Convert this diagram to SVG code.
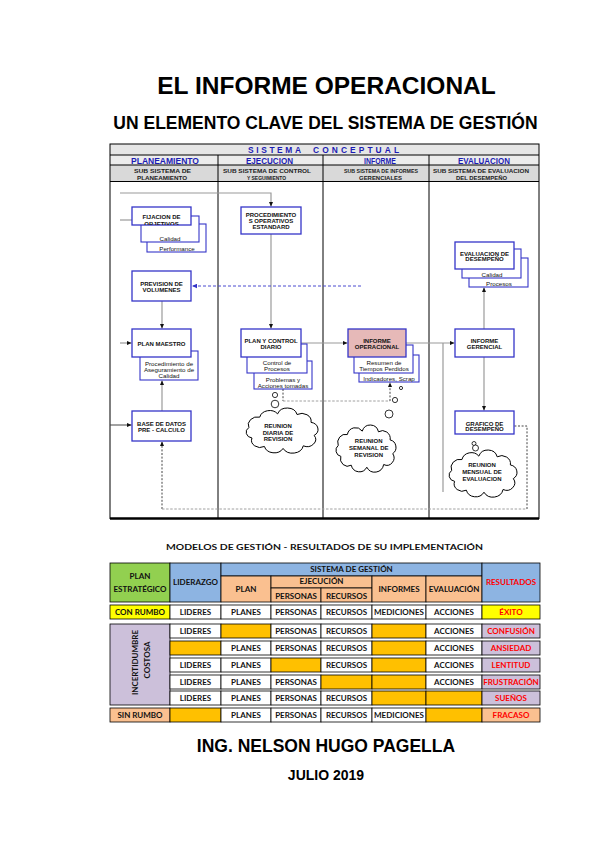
<svg xmlns="http://www.w3.org/2000/svg" width="595" height="842" viewBox="0 0 595 842">
<style>
.bx{fill:#fff;stroke:#3535c8;stroke-width:1.3}
.bk{fill:#fff;stroke:#3535c8;stroke-width:1.1}
.pk{fill:#e6b9b8;stroke:#3535c8;stroke-width:1.3}
.t{font-family:"Liberation Sans",Arial,sans-serif;font-weight:bold;font-size:6px;fill:#111;text-anchor:middle}
.r{font-family:"Liberation Sans",Arial,sans-serif;font-size:6.2px;fill:#111;text-anchor:middle}
.hd{font-family:"Liberation Sans",Arial,sans-serif;font-weight:bold;font-size:8.4px;fill:#1c1cb4}
.sh{font-family:"Liberation Sans",Arial,sans-serif;font-weight:bold;font-size:5.3px;fill:#222}
.ln{fill:none;stroke:#9a9a9a;stroke-width:1.2}
.dk{fill:none;stroke:#444;stroke-width:1;stroke-dasharray:2 1.6}
.dg{fill:none;stroke:#a0a0a0;stroke-width:1;stroke-dasharray:2.5 1.6}
.db{fill:none;stroke:#4a4ad0;stroke-width:1;stroke-dasharray:3 2}
.cl{fill:#fff;stroke:#000;stroke-width:1;vector-effect:non-scaling-stroke}
.c{fill:#fff;stroke:#000;stroke-width:0.8}
.ttl{font-family:"Liberation Sans",Arial,sans-serif;font-weight:bold;fill:#000;text-anchor:middle}
.tt{font-family:Lato,"Liberation Sans",sans-serif;font-weight:bold;font-size:8px;fill:#111;text-anchor:middle}
.rd{fill:#ff0000}
.w{fill:#fff;stroke:#000;stroke-width:0.8}
.y{fill:#ffff00;stroke:#000;stroke-width:0.8}
.o{fill:#ffc000;stroke:#000;stroke-width:0.8}
.p{fill:#ccc0da;stroke:#000;stroke-width:0.8}
.pe{fill:#fac090;stroke:#000;stroke-width:0.8}
.g{fill:#92d050;stroke:#000;stroke-width:0.8}
.b{fill:#8db4e2;stroke:#000;stroke-width:0.8}
</style>
<defs>
<marker id="ah" viewBox="0 0 10 10" refX="10" refY="5" markerWidth="4.5" markerHeight="4.5" orient="auto" markerUnits="userSpaceOnUse"><path d="M0,0.5 L10,5 L0,9.5 z" fill="#111"/></marker>
<marker id="ahb" viewBox="0 0 10 10" refX="10" refY="5" markerWidth="5" markerHeight="5" orient="auto" markerUnits="userSpaceOnUse"><path d="M0,0.5 L10,5 L0,9.5 z" fill="#3434c8"/></marker>
<path id="cloud" class="cl" d="M9,46 A9,9 0 0 1 5,30 A12,12 0 0 1 19,14 A13,13 0 0 1 42,9 A13,13 0 0 1 67,10 A12,12 0 0 1 85,22 A11,11 0 0 1 89,42 A11,11 0 0 1 75,58 A14,14 0 0 1 49,62 A13,13 0 0 1 25,59 A11,11 0 0 1 9,46 Z"/>
<clipPath id="cf"><rect x="132" y="207" width="59" height="18"/></clipPath>
</defs>
<rect width="595" height="842" fill="#fff"/>

<!-- Titles -->
<text class="ttl" x="326.5" y="94" font-size="24.5">EL INFORME OPERACIONAL</text>
<text class="ttl" x="325.5" y="129" font-size="17.5">UN ELEMENTO CLAVE DEL SISTEMA DE GESTIÓN</text>

<!-- Frame / header -->
<g id="frame">
<rect x="110" y="144" width="429" height="11" fill="#e6e6e6"/>
<rect x="110" y="155" width="429" height="10" fill="#ececec"/>
<rect x="110" y="165" width="429" height="16.5" fill="#d9d9d9"/>
<rect x="110" y="144" width="429" height="374.5" fill="none" stroke="#000" stroke-width="1"/>
<path d="M110,155 H539 M110,165 H539 M110,181.5 H539 M218,155 V518 M323,155 V518 M429,155 V518" stroke="#000" stroke-width="1" fill="none"/>
<path d="M110,518.5 H539" stroke="#000" stroke-width="2.5"/>
<text class="hd" x="248" y="152.7" textLength="53" lengthAdjust="spacing">SISTEMA</text>
<text class="hd" x="313" y="152.7" textLength="86" lengthAdjust="spacing">CONCEPTUAL</text>
<text class="hd" x="131" y="164.3" textLength="68" lengthAdjust="spacingAndGlyphs">PLANEAMIENTO</text>
<text class="hd" x="246" y="164.3" textLength="47" lengthAdjust="spacingAndGlyphs">EJECUCION</text>
<text class="hd" x="364" y="164.3" textLength="32" lengthAdjust="spacingAndGlyphs">INFORME</text>
<text class="hd" x="458" y="164.3" textLength="52" lengthAdjust="spacingAndGlyphs">EVALUACION</text>
<text class="sh" x="134" y="172.5" textLength="57" lengthAdjust="spacingAndGlyphs">SUB SISTEMA DE</text>
<text class="sh" x="137" y="180" textLength="50" lengthAdjust="spacingAndGlyphs">PLANEAMIENTO</text>
<text class="sh" x="223" y="172.5" textLength="88" lengthAdjust="spacingAndGlyphs">SUB SISTEMA DE CONTROL</text>
<text class="sh" x="247" y="180" textLength="39" lengthAdjust="spacingAndGlyphs">Y SEGUIMIENTO</text>
<text class="sh" x="344" y="172.5" textLength="74" lengthAdjust="spacingAndGlyphs">SUB SISTEMA DE INFORMES</text>
<text class="sh" x="359" y="180" textLength="43" lengthAdjust="spacingAndGlyphs">GERENCIALES</text>
<text class="sh" x="433" y="172.5" textLength="96" lengthAdjust="spacingAndGlyphs">SUB SISTEMA DE EVALUACION</text>
<text class="sh" x="456" y="180" textLength="51" lengthAdjust="spacingAndGlyphs">DEL DESEMPEÑO</text>
</g>

<!-- Connectors -->
<g id="connectors">
<path class="ln" d="M120,193 H271 V206.5" marker-end="url(#ah)"/>
<path class="ln" d="M120,220 H132"/>
<path class="ln" d="M271,234 V328.5" marker-end="url(#ah)"/>
<path class="ln" d="M162,301 V328.5" marker-end="url(#ah)"/>
<path class="ln" d="M120,343 H131.5" marker-end="url(#ah)"/>
<path class="ln" d="M162,411 V380.5" marker-end="url(#ah)"/>
<path d="M110,425 H131.5" fill="none" stroke="#444" stroke-width="1" marker-end="url(#ah)"/>
<path class="ln" d="M301,343 H347.5" marker-end="url(#ah)"/>
<path class="ln" d="M406,343 H454.5" marker-end="url(#ah)"/>
<path class="ln" d="M443,343 V492"/>
<path class="ln" d="M484,329 V287.5" marker-end="url(#ah)"/>
<path class="ln" d="M484,357 V410.5" marker-end="url(#ah)"/>
<path class="db" d="M361,286 H192" marker-end="url(#ahb)"/>
<path class="dk" d="M283,389 V401"/>
<path class="dg" d="M283,401 H390"/>
<path class="dk" d="M390,401 V382.5" marker-end="url(#ah)"/>
<path class="dk" d="M162,509 V441.5" marker-end="url(#ah)"/>
<path class="dg" d="M162,509 H527"/>
<path class="dk" d="M527,509 V426 H514"/>
</g>

<!-- PLANEAMIENTO nodes -->
<g id="n-fijacion">
<rect class="bk" x="147" y="224" width="59" height="28"/>
<text class="r" x="177" y="250.5">Performance</text>
<rect class="bk" x="141" y="216" width="58" height="26"/>
<text class="r" x="170" y="240.5">Calidad</text>
<rect class="bx" x="132" y="207" width="59" height="18"/>
<g clip-path="url(#cf)"><text class="t" x="161.5" y="219">FIJACION DE</text><text class="t" x="161.5" y="225.5">OBJETIVOS</text></g>
</g>
<g id="n-prevision">
<rect class="bx" x="132" y="271" width="59" height="30"/>
<text class="t" x="161.5" y="285.5">PREVISION DE</text>
<text class="t" x="161.5" y="291.5">VOLUMENES</text>
</g>
<g id="n-planmaestro">
<rect class="bk" x="140" y="351" width="58" height="29"/>
<text class="r" x="169" y="365.5">Procedimiento de</text>
<text class="r" x="169" y="372">Aseguramiento de</text>
<text class="r" x="169" y="378.3">Calidad</text>
<rect class="bx" x="132" y="329" width="59" height="28"/>
<text class="t" x="161.5" y="345.8">PLAN MAESTRO</text>
</g>
<g id="n-basedatos">
<rect class="bx" x="132" y="411" width="59" height="30"/>
<text class="t" x="161.5" y="425.5">BASE DE DATOS</text>
<text class="t" x="161.5" y="431.5">PRE - CALCULO</text>
</g>

<!-- EJECUCION nodes -->
<g id="n-procedimientos">
<rect class="bx" x="241" y="207" width="60" height="27"/>
<text class="t" x="271" y="217.2">PROCEDIMIENTO</text>
<text class="t" x="271" y="223.2">S OPERATIVOS</text>
<text class="t" x="271" y="229.4">ESTANDARD</text>
</g>
<g id="n-plancontrol">
<rect class="bk" x="254" y="361" width="58" height="28"/>
<text class="r" x="283" y="382.2">Problemas y</text>
<text class="r" x="283" y="387.9">Acciones tomadas</text>
<rect class="bk" x="247" y="344" width="60" height="29"/>
<text class="r" x="277" y="364.9">Control de</text>
<text class="r" x="277" y="370.9">Procesos</text>
<rect class="bx" x="241" y="329" width="60" height="28"/>
<text class="t" x="271" y="343.2">PLAN Y CONTROL</text>
<text class="t" x="271" y="349.2">DIARIO</text>
</g>
<g id="n-reuniondiaria">
<circle class="c" cx="275" cy="395" r="2.6"/>
<circle class="c" cx="275" cy="404" r="3.8"/>
<use href="#cloud" transform="translate(245,408) scale(0.777,0.652)"/>
<text class="t" x="278" y="427.9">REUNION</text>
<text class="t" x="278" y="434.5">DIARIA DE</text>
<text class="t" x="278" y="441.2">REVISION</text>
</g>

<!-- INFORME nodes -->
<g id="n-informeop">
<rect class="bk" x="359" y="355" width="60" height="27"/>
<text class="r" x="389" y="380.5" font-size="5.6" fill="#1a1a60">Indicadores, Scrap</text>
<rect class="bk" x="354" y="345" width="59" height="28"/>
<text class="r" x="384" y="364.9">Resumen de</text>
<text class="r" x="384" y="371.2">Tiempos Perdidos</text>
<rect class="pk" x="348" y="329" width="58" height="28"/>
<text class="t" x="377" y="343.2">INFORME</text>
<text class="t" x="377" y="349.2">OPERACIONAL</text>
</g>
<g id="n-reunionsemanal">
<circle class="c" cx="401" cy="388" r="1.6"/>
<circle class="c" cx="395" cy="400" r="2.6"/>
<circle class="c" cx="389" cy="414" r="4"/>
<use href="#cloud" transform="translate(335,425) scale(0.649,0.681)"/>
<text class="t" x="368.7" y="443.2">REUNION</text>
<text class="t" x="368.7" y="450.2">SEMANAL DE</text>
<text class="t" x="368.7" y="456.5">REVISION</text>
</g>

<!-- EVALUACION nodes -->
<g id="n-evaluacion">
<rect class="bk" x="469" y="258" width="59" height="29"/>
<text class="r" x="499" y="285.5" fill="#3a1010">Procesos</text>
<rect class="bk" x="462" y="249" width="59" height="29"/>
<text class="r" x="492" y="276.5">Calidad</text>
<rect class="bx" x="455" y="242" width="59" height="27"/>
<text class="t" x="484.5" y="255.5">EVALUACION DE</text>
<text class="t" x="484.5" y="260.9">DESEMPEÑO</text>
</g>
<g id="n-informegerencial">
<rect class="bx" x="455" y="329" width="59" height="28"/>
<text class="t" x="484.5" y="343.2">INFORME</text>
<text class="t" x="484.5" y="349.2">GERENCIAL</text>
</g>
<g id="n-grafico">
<rect class="bx" x="455" y="411" width="59" height="23"/>
<text class="t" x="484.5" y="425.5">GRAFICO DE</text>
<text class="t" x="484.5" y="431.2">DESEMPEÑO</text>
</g>
<g id="n-reunionmensual">
<circle class="c" cx="474" cy="443.5" r="2"/>
<circle class="c" cx="475.5" cy="448" r="3"/>
<use href="#cloud" transform="translate(448,450) scale(0.734,0.681)"/>
<text class="t" x="482" y="467.2">REUNION</text>
<text class="t" x="482" y="474.2">MENSUAL DE</text>
<text class="t" x="482" y="481.2">EVALUACION</text>
</g>

<!-- Table -->
<text class="tt" x="324.5" y="549.5" font-size="9.5" textLength="317" lengthAdjust="spacingAndGlyphs">MODELOS DE GESTIÓN - RESULTADOS DE SU IMPLEMENTACIÓN</text>
<g id="table-header">
<rect class="g" x="110" y="563" width="60" height="39"/>
<text class="tt" x="140" y="578.5" font-size="7.6">PLAN</text>
<text class="tt" x="140" y="592" font-size="7.6">ESTRATÉGICO</text>
<rect class="b" x="170" y="563" width="51" height="39"/>
<text class="tt" x="195.5" y="584.5" font-size="7.6">LIDERAZGO</text>
<rect class="b" x="221" y="563" width="261" height="13"/>
<text class="tt" x="351.5" y="571.7" font-size="7.6">SISTEMA DE GESTIÓN</text>
<rect class="pe" x="221" y="576" width="50" height="26"/>
<text class="tt" x="246" y="591.5" font-size="7.6">PLAN</text>
<rect class="pe" x="271" y="576" width="101" height="12"/>
<text class="tt" x="321.5" y="584" font-size="7.6">EJECUCIÓN</text>
<rect class="pe" x="271" y="588" width="50" height="14"/>
<text class="tt" x="296" y="598.5" font-size="7.6">PERSONAS</text>
<rect class="pe" x="321" y="588" width="51" height="14"/>
<text class="tt" x="346.5" y="598.5" font-size="7.6">RECURSOS</text>
<rect class="pe" x="372" y="576" width="54" height="26"/>
<text class="tt" x="399" y="591.5" font-size="7.6">INFORMES</text>
<rect class="pe" x="426" y="576" width="56" height="26"/>
<text class="tt" x="454" y="591.5" font-size="7.6">EVALUACIÓN</text>
<rect class="b" x="482" y="563" width="58" height="39"/>
<text class="tt rd" x="511" y="585" font-size="7.6">RESULTADOS</text>
</g>

<g id="row-conrumbo">
<rect class="y" x="110" y="605" width="60" height="14"/><text class="tt" x="140" y="615">CON RUMBO</text>
<rect class="w" x="170" y="605" width="51" height="14"/><text class="tt" x="195.5" y="615">LIDERES</text>
<rect class="w" x="221" y="605" width="50" height="14"/><text class="tt" x="246" y="615">PLANES</text>
<rect class="w" x="271" y="605" width="50" height="14"/><text class="tt" x="296" y="615">PERSONAS</text>
<rect class="w" x="321" y="605" width="51" height="14"/><text class="tt" x="346.5" y="615">RECURSOS</text>
<rect class="w" x="372" y="605" width="54" height="14"/><text class="tt" x="399" y="615">MEDICIONES</text>
<rect class="w" x="426" y="605" width="56" height="14"/><text class="tt" x="454" y="615">ACCIONES</text>
<rect class="y" x="482" y="605" width="58" height="14"/><text class="tt rd" x="511" y="615">ÉXITO</text>
</g>

<g id="rows-incertidumbre">
<rect class="p" x="110" y="624" width="60" height="81"/>
<text class="tt" transform="translate(138,662.5) rotate(-90)">INCERTIDUMBRE</text>
<text class="tt" transform="translate(150,660) rotate(-90)">COSTOSA</text>

<rect class="w" x="170" y="624" width="51" height="14"/><text class="tt" x="195.5" y="634">LIDERES</text>
<rect class="o" x="221" y="624" width="50" height="14"/>
<rect class="w" x="271" y="624" width="50" height="14"/><text class="tt" x="296" y="634">PERSONAS</text>
<rect class="w" x="321" y="624" width="51" height="14"/><text class="tt" x="346.5" y="634">RECURSOS</text>
<rect class="o" x="372" y="624" width="54" height="14"/>
<rect class="w" x="426" y="624" width="56" height="14"/><text class="tt" x="454" y="634">ACCIONES</text>
<rect class="p" x="482" y="624" width="58" height="14"/><text class="tt rd" x="511" y="634">CONFUSIÓN</text>

<rect class="o" x="170" y="641" width="51" height="14"/>
<rect class="w" x="221" y="641" width="50" height="14"/><text class="tt" x="246" y="651">PLANES</text>
<rect class="w" x="271" y="641" width="50" height="14"/><text class="tt" x="296" y="651">PERSONAS</text>
<rect class="w" x="321" y="641" width="51" height="14"/><text class="tt" x="346.5" y="651">RECURSOS</text>
<rect class="o" x="372" y="641" width="54" height="14"/>
<rect class="w" x="426" y="641" width="56" height="14"/><text class="tt" x="454" y="651">ACCIONES</text>
<rect class="p" x="482" y="641" width="58" height="14"/><text class="tt rd" x="511" y="651">ANSIEDAD</text>

<rect class="w" x="170" y="658" width="51" height="14"/><text class="tt" x="195.5" y="668">LIDERES</text>
<rect class="w" x="221" y="658" width="50" height="14"/><text class="tt" x="246" y="668">PLANES</text>
<rect class="o" x="271" y="658" width="50" height="14"/>
<rect class="w" x="321" y="658" width="51" height="14"/><text class="tt" x="346.5" y="668">RECURSOS</text>
<rect class="o" x="372" y="658" width="54" height="14"/>
<rect class="w" x="426" y="658" width="56" height="14"/><text class="tt" x="454" y="668">ACCIONES</text>
<rect class="p" x="482" y="658" width="58" height="14"/><text class="tt rd" x="511" y="668">LENTITUD</text>

<rect class="w" x="170" y="675" width="51" height="14"/><text class="tt" x="195.5" y="685">LIDERES</text>
<rect class="w" x="221" y="675" width="50" height="14"/><text class="tt" x="246" y="685">PLANES</text>
<rect class="w" x="271" y="675" width="50" height="14"/><text class="tt" x="296" y="685">PERSONAS</text>
<rect class="o" x="321" y="675" width="51" height="14"/>
<rect class="o" x="372" y="675" width="54" height="14"/>
<rect class="w" x="426" y="675" width="56" height="14"/><text class="tt" x="454" y="685">ACCIONES</text>
<rect class="p" x="482" y="675" width="58" height="14"/><text class="tt rd" x="511" y="685">FRUSTRACIÓN</text>

<rect class="w" x="170" y="691" width="51" height="14"/><text class="tt" x="195.5" y="701">LIDERES</text>
<rect class="w" x="221" y="691" width="50" height="14"/><text class="tt" x="246" y="701">PLANES</text>
<rect class="w" x="271" y="691" width="50" height="14"/><text class="tt" x="296" y="701">PERSONAS</text>
<rect class="w" x="321" y="691" width="51" height="14"/><text class="tt" x="346.5" y="701">RECURSOS</text>
<rect class="o" x="372" y="691" width="54" height="14"/>
<rect class="o" x="426" y="691" width="56" height="14"/>
<rect class="p" x="482" y="691" width="58" height="14"/><text class="tt rd" x="511" y="701">SUEÑOS</text>
</g>

<g id="row-sinrumbo">
<rect class="pe" x="110" y="708" width="60" height="14"/><text class="tt" x="140" y="718">SIN RUMBO</text>
<rect class="o" x="170" y="708" width="51" height="14"/>
<rect class="w" x="221" y="708" width="50" height="14"/><text class="tt" x="246" y="718">PLANES</text>
<rect class="w" x="271" y="708" width="50" height="14"/><text class="tt" x="296" y="718">PERSONAS</text>
<rect class="w" x="321" y="708" width="51" height="14"/><text class="tt" x="346.5" y="718">RECURSOS</text>
<rect class="w" x="372" y="708" width="54" height="14"/><text class="tt" x="399" y="718">MEDICIONES</text>
<rect class="o" x="426" y="708" width="56" height="14"/>
<rect class="pe" x="482" y="708" width="58" height="14"/><text class="tt rd" x="511" y="718">FRACASO</text>
</g>

<text class="ttl" x="326" y="752" font-size="17.5">ING. NELSON HUGO PAGELLA</text>
<text class="ttl" x="326" y="779.5" font-size="14">JULIO 2019</text>
</svg>
